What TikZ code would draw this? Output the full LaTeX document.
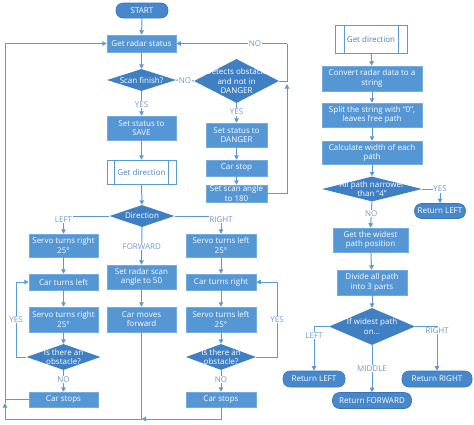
\documentclass[tikz,border=0pt]{standalone}
\usepackage{fontspec}
\setmainfont{Open Sans}
\usetikzlibrary{arrows.meta,calc,shapes.geometric}
\definecolor{boxc}{HTML}{5596D4}
\definecolor{boxe}{HTML}{76ACDD}
\definecolor{diac}{HTML}{3F7FC3}
\definecolor{pillc}{HTML}{4788CD}
\definecolor{pille}{HTML}{3A75B5}
\definecolor{linec}{HTML}{5B9BD5}
\definecolor{labc}{HTML}{7499C8}
\tikzset{
  base/.style={inner sep=0pt, font=\fontsize{8}{9.2}\selectfont, align=center},
  proc/.style={base, rectangle, fill=boxc, draw=boxe, line width=0.5pt, text=white},
  dia/.style={base, diamond, fill=diac, draw=none, text=white},
  dtext/.style={base, text=white},
  pill/.style={base, rectangle, rounded corners=7pt, fill=pillc, draw=pille, line width=0.6pt, text=white},
  pre/.style={base, rectangle, fill=white, draw=linec, line width=0.5pt, text=linec!85!black},
  conn/.style={draw=linec, line width=1pt},
  arr/.style={conn, -{Triangle[width=4.5pt,length=4.5pt]}},
  lab/.style={base, fill=white, text=labc, inner sep=0.6pt}
}
\newcommand{\mybox}[6]{\node[#1, minimum width=#4, minimum height=#5] (#2) at #3 {#6};}
\begin{document}
\begin{tikzpicture}[x=1pt,y=-1pt]
\useasboundingbox (0,0) rectangle (474,424);
% ---------- left part ----------
\node[pill, minimum width=52, minimum height=15] (start) at (142,10.5) {START};
\mybox{proc}{grs}{(141.5,43.5)}{69}{17}{Get radar status}
\node[dia, minimum width=69, minimum height=22, label={[dtext]center:Scan finish?}] (scan) at (141.5,80) {};
\node[dia, minimum width=85, minimum height=44, label={[dtext]center:Detects obstacle\\and not in\\DANGER}] (det) at (236.5,81) {};
\mybox{proc}{save}{(141.5,128)}{69}{24}{Set status to\\SAVE}
\mybox{proc}{danger}{(236.5,135)}{61}{24}{Set status to\\DANGER}
\mybox{proc}{cstop}{(236.5,168)}{61}{16}{Car stop}
\mybox{proc}{a180}{(236.5,193.5)}{61}{17}{Set scan angle\\to 180}
\mybox{pre}{gd1}{(141.5,172)}{69}{24}{Get direction}
\draw[draw=linec, line width=0.5pt] ($(gd1.north)+(-27,0)$) -- ($(gd1.south)+(-27,0)$)
  ($(gd1.north)+(27,0)$) -- ($(gd1.south)+(27,0)$);
\node[dia, minimum width=65, minimum height=22, label={[dtext]center:Direction}] (dir) at (142,216) {};
\mybox{proc}{srL1}{(63.5,245.5)}{69}{23}{Servo turns right\\25°}
\mybox{proc}{slR1}{(221,245.5)}{70}{23}{Servo turns left\\25°}
\mybox{proc}{r50}{(141.5,277)}{69}{24}{Set radar scan\\angle to 50}
\mybox{proc}{ctl}{(63.5,282)}{69}{16}{Car turns left}
\mybox{proc}{ctr}{(221,282)}{70}{16}{Car turns right}
\mybox{proc}{srL2}{(63.5,319.5)}{69}{25}{Servo turns right\\25°}
\mybox{proc}{fwd}{(141.5,319.5)}{69}{25}{Car moves\\forward}
\mybox{proc}{slR2}{(221,319.5)}{70}{25}{Servo turns left\\25°}
\node[dia, minimum width=74, minimum height=26, label={[dtext]center:Is there an\\obstacle?}] (obsL) at (63.5,357) {};
\node[dia, minimum width=70, minimum height=26, label={[dtext]center:Is there an\\obstacle?}] (obsR) at (221,357) {};
\mybox{proc}{csL}{(63.5,399.5)}{69}{15}{Car stops}
\mybox{proc}{csR}{(221,399.5)}{70}{15}{Car stops}
\coordinate (rx) at (287,0);
\coordinate (j1) at (141.5,419);
\coordinate (lx) at (5,403);
\coordinate (xl) at (16,0);
\coordinate (xr) at (277,0);
% connectors left part
\draw[arr] (start) -- (grs);
\draw[arr] (grs) -- (scan);
\draw[conn] (scan.east) -- node[lab]{NO} (det.west);
\draw[arr] (scan) -- node[lab, pos=0.55]{YES} (save);
\draw[arr] (save) -- (gd1);
\draw[arr] (gd1) -- (dir);
\draw[arr] (det) -- node[lab, pos=0.45]{YES} (danger);
\draw[arr] (danger) -- (cstop);
\draw[arr] (cstop) -- (a180);
\draw[arr] (a180.east) -| ($(rx|-det.east)+(0,3)$);
\draw[conn] (det.east) -- (rx|-det.east) -- (rx|-grs.east);
\draw[arr] (rx|-grs.east) -- node[lab, pos=0.29]{NO} (grs.east);
\draw[arr] (dir.west) -| node[lab, pos=0.6]{LEFT} (srL1.north);
\draw[arr] (dir.east) -| node[lab, pos=0.6]{RIGHT} (slR1.north);
\draw[arr] (dir.south) -- node[lab, pos=0.52]{FORWARD} (r50.north);
\draw[arr] (srL1) -- (ctl);
\draw[arr] (ctl) -- (srL2);
\draw[arr] (srL2) -- (obsL);
\draw[arr] (obsL) -- node[lab, pos=0.45]{NO} (csL);
\draw[arr] (slR1) -- (ctr);
\draw[arr] (ctr) -- (slR2);
\draw[arr] (slR2) -- (obsR);
\draw[arr] (obsR) -- node[lab, pos=0.45]{NO} (csR);
\draw[arr] (r50) -- (fwd);
\draw[arr] (obsL.west) -- (xl|-obsL.west) -- node[lab]{YES} (xl|-ctl.west) -- (ctl.west);
\draw[arr] (obsR.east) -- (xr|-obsR.east) -- node[lab]{YES} (xr|-ctr.east) -- (ctr.east);
\draw[arr] (csR.south) |- (j1);
\draw[conn] (fwd.south) -- (j1);
\draw[arr] (j1) -| (lx);
\draw[conn] (csL.west) -- (lx|-csL.west);
\draw[arr] (lx) |- (grs.west);
% ---------- right part ----------
\mybox{pre}{gd2}{(371,39)}{72}{28}{Get direction}
\draw[draw=linec, line width=0.5pt] ($(gd2.north)+(-27,0)$) -- ($(gd2.south)+(-27,0)$)
  ($(gd2.north)+(27,0)$) -- ($(gd2.south)+(27,0)$);
\mybox{proc}{conv}{(372,78.5)}{100}{25}{Convert radar data to a\\string}
\mybox{proc}{split}{(372,115)}{100}{24}{Split the string with “0”,\\leaves free path}
\mybox{proc}{calc}{(372,152.5)}{100}{23}{Calculate width of each\\path}
\node[dia, minimum width=100, minimum height=25, label={[dtext]center:All path narrower\\than “4”}] (narrow) at (372,189) {};
\node[pill, minimum width=51, minimum height=15] (retL1) at (440,211) {Return LEFT};
\mybox{proc}{widest}{(370.5,240)}{75}{24}{Get the widest\\path position}
\mybox{proc}{divide}{(372,282.5)}{70}{25}{Divide all path\\into 3 parts}
\node[dia, minimum width=86, minimum height=37, label={[dtext]center:If widest path\\on...}] (ifw) at (372,326.5) {};
\node[pill, minimum width=62, minimum height=16] (retL2) at (314,379) {Return LEFT};
\node[pill, minimum width=70, minimum height=16] (retR) at (437,379) {Return RIGHT};
\node[pill, minimum width=79, minimum height=16] (retF) at (372,400.5) {Return FORWARD};
\draw[arr] (gd2) -- (conv);
\draw[arr] (conv) -- (split);
\draw[arr] (split) -- (calc);
\draw[arr] (calc) -- (narrow);
\draw[arr] (narrow.east) -| node[lab, pos=0.5]{YES} (retL1.north);
\draw[arr] (narrow.south) -- node[lab, pos=0.45]{NO} (widest.north);
\draw[arr] (widest) -- (divide);
\draw[arr] (divide) -- (ifw);
\draw[arr] (ifw.west) -| node[lab, pos=0.6]{LEFT} (retL2.north);
\draw[arr] (ifw.east) -| node[lab, pos=0.55]{RIGHT} (retR.north);
\draw[arr] (ifw.south) -- node[lab, pos=0.5]{MIDDLE} (retF.north);
\end{tikzpicture}
\end{document}
